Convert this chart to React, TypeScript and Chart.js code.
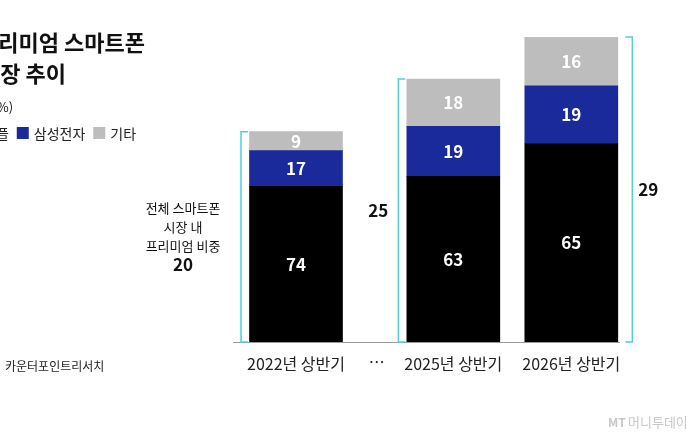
import React, { useEffect, useRef } from "react";
import { Chart, registerables } from "chart.js";
Chart.register(...registerables);

const categories = ["2022년 상반기", "2025년 상반기", "2026년 상반기"];
const positions = [0, 4 / 3, 7 / 3];
const premiumShare = [20, 25, 29];
const apple = [74, 63, 65];
const samsung = [17, 19, 19];
const others = [9, 18, 16];
const seriesNames = ["애플", "삼성전자", "기타"];
const colors = ["#000000", "#1b2a9a", "#bdbdbd"];
const FONT = "'Noto Sans CJK KR', 'Noto Sans', sans-serif";
const CYAN = "#4fd0dc";

const overlay = {
  id: "overlay",
  afterDatasetsDraw(chart: any) {
    const ctx = chart.ctx;
    const x = chart.scales.x, y = chart.scales.y;
    const base = y.getPixelForValue(0);
    ctx.save();
    ctx.strokeStyle = "#999";
    ctx.lineWidth = 1;
    ctx.beginPath();
    ctx.moveTo(chart.chartArea.left, base + 0.5);
    ctx.lineTo(chart.chartArea.right, base + 0.5);
    ctx.stroke();
    const sets = [apple, samsung, others];
    ctx.fillStyle = "#fff";
    ctx.font = `bold 17px ${FONT}`;
    ctx.textAlign = "center";
    ctx.textBaseline = "middle";
    chart.data.datasets.forEach((ds: any, di: number) => {
      const meta = chart.getDatasetMeta(di);
      meta.data.forEach((bar: any, i: number) => {
        const mid = (bar.y + bar.base) / 2;
        ctx.fillText(String(sets[di][i]), bar.x, mid);
      });
    });
    ctx.strokeStyle = CYAN;
    ctx.lineWidth = 1.5;
    premiumShare.forEach((v, i) => {
      const top = y.getPixelForValue(v);
      const cx = x.getPixelForValue(positions[i]);
      const right = i === 2;
      const bx = right ? cx + 61 : cx - 55;
      const d = right ? -7 : 7;
      ctx.beginPath();
      ctx.moveTo(bx + d, top);
      ctx.lineTo(bx, top);
      ctx.lineTo(bx, base);
      ctx.lineTo(bx + d, base);
      ctx.stroke();
    });
    ctx.fillStyle = "#111";
    ctx.font = `bold 17px ${FONT}`;
    ctx.textAlign = "center";
    const b1 = x.getPixelForValue(positions[1]) - 75;
    ctx.fillText(String(premiumShare[1]), b1, (y.getPixelForValue(premiumShare[1]) + base) / 2);
    const b2 = x.getPixelForValue(positions[2]) + 77;
    ctx.fillText(String(premiumShare[2]), b2, (y.getPixelForValue(premiumShare[2]) + base) / 2);
    ctx.font = `13px ${FONT}`;
    const lx = 183;
    ctx.fillText("전체 스마트폰", lx, 208);
    ctx.fillText("시장 내", lx, 227);
    ctx.fillText("프리미엄 비중", lx, 246);
    ctx.font = `bold 17px ${FONT}`;
    ctx.fillText(String(premiumShare[0]), lx, 265);
    ctx.font = `16px ${FONT}`;
    ctx.fillStyle = "#222";
    categories.forEach((c, i) => ctx.fillText(c, x.getPixelForValue(positions[i]), base + 22));
    ctx.fillText("…", x.getPixelForValue(2 / 3) + 2, base + 20);
    ctx.textAlign = "left";
    ctx.fillStyle = "#111";
    ctx.font = `bold 22px ${FONT}`;
    ctx.fillText("프리미엄 스마트폰", -22, 43);
    ctx.fillText("시장 추이", -20, 74);
    ctx.font = `13px ${FONT}`;
    ctx.fillText("(단위: %)", -38, 107);
    ctx.font = `14px ${FONT}`;
    let lxp = -34;
    seriesNames.forEach((n, i) => {
      ctx.fillStyle = colors[i];
      ctx.fillRect(lxp, 127, 12, 12);
      ctx.fillStyle = "#222";
      ctx.fillText(n, lxp + 17, 134);
      lxp += 17 + ctx.measureText(n).width + 8;
    });
    ctx.font = `12px ${FONT}`;
    ctx.fillText("카운터포인트리서치", 5, 366);
    ctx.fillStyle = "#c8c8c8";
    ctx.font = `bold 12px ${FONT}`;
    ctx.fillText("MT", 608, 422);
    ctx.font = `13px ${FONT}`;
    ctx.fillText("머니투데이", 628, 422);
    ctx.restore();
  },
};

export default function App() {
  const ref = useRef<HTMLCanvasElement>(null);
  useEffect(() => {
    document.body.style.margin = "0";
    const sets = [apple, samsung, others];
    const chart = new Chart(ref.current!, {
      type: "bar",
      data: {
        datasets: sets.map((s, di) => ({
          label: seriesNames[di],
          data: s.map((v, i) => ({ x: positions[i], y: (premiumShare[i] * v) / 100 })),
          backgroundColor: colors[di],
          barThickness: 93,
          borderWidth: 0,
        })),
      },
      options: {
        animation: false,
        responsive: false,
        layout: { padding: { left: 233, right: 66, top: 37, bottom: 98 } },
        plugins: { legend: { display: false }, tooltip: { enabled: false } },
        scales: {
          x: { type: "linear", stacked: true, offset: false, min: -0.534, max: 2.746, display: false },
          y: { stacked: true, min: 0, max: 29, display: false },
        },
      },
      plugins: [overlay],
    });
    return () => chart.destroy();
  }, []);
  return <canvas ref={ref} width={686} height={440} style={{ display: "block", width: 686, height: 440 }} />;
}
